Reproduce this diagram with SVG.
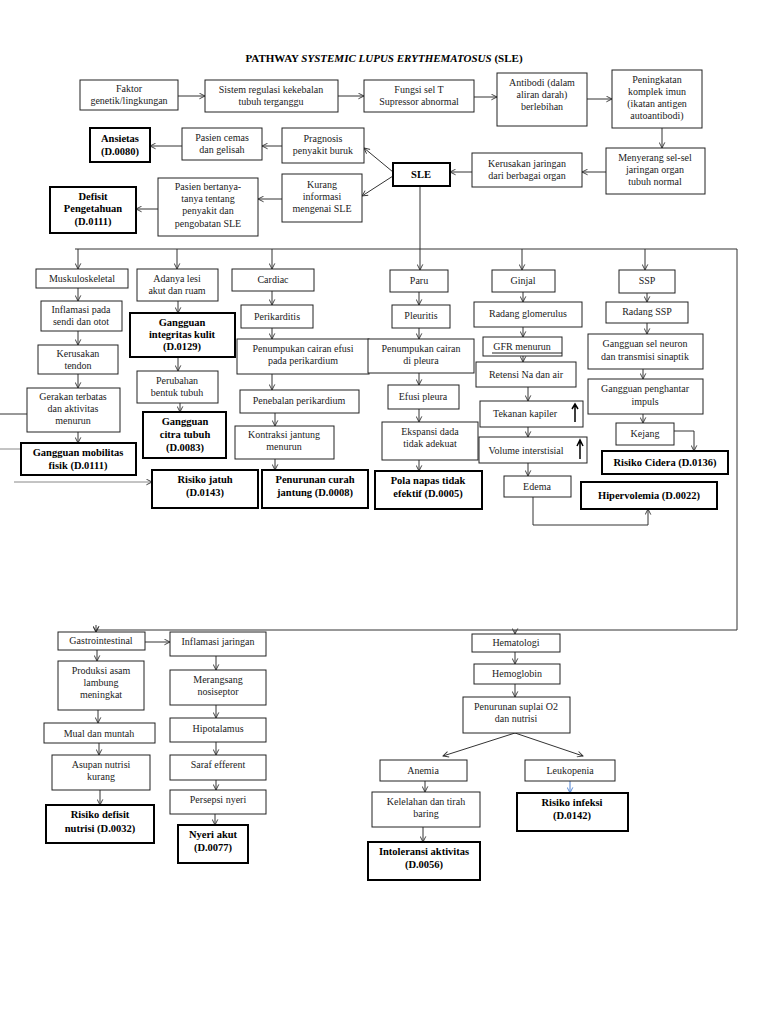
<svg xmlns="http://www.w3.org/2000/svg" width="768" height="1024" viewBox="0 0 768 1024">
<style>
text{font-family:"Liberation Serif","Times New Roman",serif;font-size:10px;fill:#222;text-anchor:middle}
.b text{font-weight:bold;font-size:10.5px;fill:#000}
rect{fill:#fff;stroke:#222;stroke-width:1}
.b rect{stroke:#000;stroke-width:2}
#conn path,#conn line{fill:none;stroke:#333;stroke-width:1}
</style>
<defs><marker id="a" viewBox="0 0 10 10" refX="9" refY="5" markerWidth="7" markerHeight="7" orient="auto"><path d="M1,1L9,5L1,9" fill="none" stroke="#333" stroke-width="1.3"/></marker>
<marker id="ab" viewBox="0 0 10 10" refX="9" refY="5" markerWidth="7" markerHeight="7" orient="auto"><path d="M1,1L9,5L1,9" fill="none" stroke="#4a7fd0" stroke-width="1.3"/></marker></defs>
<rect x="0" y="0" width="768" height="1024" style="fill:#fff;stroke:none"/>
<text x="384" y="62" style="font-weight:bold;font-size:11px;fill:#000">PATHWAY <tspan font-style="italic">SYSTEMIC LUPUS ERYTHEMATOSUS</tspan> (SLE)</text>

<g id="conn">
<line x1="178" y1="96" x2="205" y2="96" marker-end="url(#a)"/>
<line x1="338" y1="96" x2="364" y2="96" marker-end="url(#a)"/>
<line x1="474" y1="97" x2="497" y2="97" marker-end="url(#a)"/>
<line x1="587" y1="99" x2="612" y2="99" marker-end="url(#a)"/>
<line x1="662" y1="128" x2="662" y2="148" marker-end="url(#a)"/>
<line x1="606" y1="172" x2="582" y2="172" marker-end="url(#a)"/>
<line x1="472" y1="172" x2="450" y2="172" marker-end="url(#a)"/>
<line x1="393" y1="172" x2="364" y2="148" marker-end="url(#a)"/>
<line x1="393" y1="176" x2="362" y2="196" marker-end="url(#a)"/>
<line x1="282" y1="146" x2="262" y2="146" marker-end="url(#a)"/>
<line x1="182" y1="146" x2="150" y2="146" marker-end="url(#a)"/>
<line x1="282" y1="199" x2="258" y2="199" marker-end="url(#a)"/>
<line x1="158" y1="209" x2="136" y2="209" marker-end="url(#a)"/>
<path d="M420,186V270" marker-end="url(#a)"/>
<path d="M75,249H737V630H96V632"/>
<line x1="78" y1="249" x2="78" y2="269" marker-end="url(#a)"/>
<line x1="177" y1="249" x2="177" y2="269" marker-end="url(#a)"/>
<line x1="272" y1="249" x2="272" y2="269" marker-end="url(#a)"/>
<line x1="522" y1="249" x2="522" y2="270" marker-end="url(#a)"/>
<line x1="645" y1="249" x2="645" y2="270" marker-end="url(#a)"/>
<line x1="96" y1="630" x2="96" y2="632" />
<line x1="96" y1="620" x2="96" y2="632" marker-end="url(#a)" style="stroke:none"/>
<line x1="515" y1="630" x2="515" y2="634" marker-end="url(#a)"/>
<line x1="78" y1="288" x2="78" y2="301" marker-end="url(#a)"/>
<line x1="78" y1="331" x2="78" y2="345" marker-end="url(#a)"/>
<line x1="78" y1="374" x2="78" y2="388" marker-end="url(#a)"/>
<line x1="78" y1="432" x2="78" y2="443" marker-end="url(#a)"/>
<line x1="0" y1="414" x2="27" y2="414"/>
<line x1="0" y1="449" x2="60" y2="449" style="stroke:#888"/>
<line x1="14" y1="482" x2="152" y2="482" marker-end="url(#a)" style="stroke:#888"/>
<line x1="178" y1="301" x2="178" y2="313" marker-end="url(#a)"/>
<line x1="178" y1="357" x2="178" y2="371" marker-end="url(#a)"/>
<line x1="180" y1="403" x2="180" y2="412" marker-end="url(#a)"/>
<line x1="272" y1="291" x2="272" y2="305" marker-end="url(#a)"/>
<line x1="272" y1="328" x2="272" y2="339" marker-end="url(#a)"/>
<line x1="272" y1="374" x2="272" y2="390" marker-end="url(#a)"/>
<line x1="275" y1="413" x2="275" y2="426" marker-end="url(#a)"/>
<line x1="275" y1="459" x2="275" y2="470" marker-end="url(#a)"/>
<line x1="419" y1="292" x2="419" y2="305" marker-end="url(#a)"/>
<line x1="419" y1="328" x2="419" y2="339" marker-end="url(#a)"/>
<line x1="419" y1="373" x2="419" y2="385" marker-end="url(#a)"/>
<line x1="419" y1="409" x2="419" y2="422" marker-end="url(#a)"/>
<line x1="419" y1="460" x2="419" y2="471" marker-end="url(#a)"/>
<line x1="523" y1="292" x2="523" y2="302" marker-end="url(#a)"/>
<line x1="523" y1="327" x2="523" y2="337" marker-end="url(#a)"/>
<line x1="523" y1="356" x2="523" y2="362" marker-end="url(#a)"/>
<line x1="528" y1="387" x2="528" y2="401" marker-end="url(#a)"/>
<line x1="528" y1="427" x2="528" y2="437" marker-end="url(#a)"/>
<line x1="528" y1="463" x2="528" y2="476" marker-end="url(#a)"/>
<path d="M533,497V525H648V509" marker-end="url(#a)"/>
<line x1="647" y1="293" x2="647" y2="302" marker-end="url(#a)"/>
<line x1="647" y1="323" x2="647" y2="334" marker-end="url(#a)"/>
<line x1="643" y1="369" x2="643" y2="379" marker-end="url(#a)"/>
<line x1="643" y1="414" x2="643" y2="423" marker-end="url(#a)"/>
<path d="M674,431H694V451" marker-end="url(#a)"/>
<line x1="96" y1="625" x2="96" y2="632" marker-end="url(#a)"/>
<line x1="145" y1="642" x2="170" y2="642" marker-end="url(#a)"/>
<line x1="97" y1="650" x2="97" y2="661" marker-end="url(#a)"/>
<line x1="98" y1="710" x2="98" y2="723" marker-end="url(#a)"/>
<line x1="99" y1="743" x2="99" y2="755" marker-end="url(#a)"/>
<line x1="100" y1="790" x2="100" y2="805" marker-end="url(#a)"/>
<line x1="216" y1="656" x2="216" y2="670" marker-end="url(#a)"/>
<line x1="216" y1="705" x2="216" y2="718" marker-end="url(#a)"/>
<line x1="216" y1="742" x2="216" y2="755" marker-end="url(#a)"/>
<line x1="216" y1="780" x2="216" y2="790" marker-end="url(#a)"/>
<line x1="215" y1="814" x2="215" y2="825" marker-end="url(#a)"/>
<line x1="515" y1="652" x2="515" y2="664" marker-end="url(#a)"/>
<line x1="515" y1="684" x2="515" y2="697" marker-end="url(#a)"/>
<line x1="515" y1="733" x2="443" y2="756" marker-end="url(#a)"/>
<line x1="515" y1="733" x2="583" y2="756" marker-end="url(#a)"/>
<line x1="425" y1="781" x2="425" y2="792" marker-end="url(#a)"/>
<line x1="423" y1="827" x2="423" y2="842" marker-end="url(#a)"/>
<line x1="570" y1="781" x2="570" y2="793" marker-end="url(#ab)" style="stroke:#4a7fd0"/>
</g>

<g id="n1"><rect x="80" y="80" width="98" height="30"/><text x="129" y="92">Faktor</text><text x="129" y="104">genetik/lingkungan</text></g>
<g id="n2"><rect x="205" y="80" width="133" height="32"/><text x="271" y="93">Sistem regulasi kekebalan</text><text x="271" y="105">tubuh terganggu</text></g>
<g id="n3"><rect x="364" y="80" width="110" height="32"/><text x="419" y="93">Fungsi sel T</text><text x="419" y="105">Supressor abnormal</text></g>
<g id="n4"><rect x="497" y="73" width="90" height="53"/><text x="542" y="86">Antibodi (dalam</text><text x="542" y="98">aliran darah)</text><text x="542" y="110">berlebihan</text></g>
<g id="n5"><rect x="612" y="70" width="90" height="58"/><text x="657" y="83">Peningkatan</text><text x="657" y="95">komplek imun</text><text x="657" y="107">(ikatan antigen</text><text x="657" y="119">autoantibodi)</text></g>
<g id="n6" class="b"><rect x="90" y="128" width="60" height="34"/><text x="120" y="142">Ansietas</text><text x="120" y="155">(D.0080)</text></g>
<g id="n7"><rect x="182" y="128" width="80" height="32"/><text x="222" y="141">Pasien cemas</text><text x="222" y="153">dan gelisah</text></g>
<g id="n8"><rect x="282" y="128" width="82" height="35"/><text x="323" y="142">Pragnosis</text><text x="323" y="154">penyakit buruk</text></g>
<g id="n9" class="b"><rect x="393" y="163" width="57" height="23"/><text x="421" y="178">SLE</text></g>
<g id="n10"><rect x="472" y="153" width="110" height="34"/><text x="527" y="167">Kerusakan jaringan</text><text x="527" y="179">dari berbagai organ</text></g>
<g id="n11"><rect x="606" y="148" width="99" height="46"/><text x="655" y="161">Menyerang sel-sel</text><text x="655" y="173">jaringan organ</text><text x="655" y="185">tubuh normal</text></g>
<g id="n12" class="b"><rect x="50" y="187" width="86" height="46"/><text x="93" y="200">Defisit</text><text x="93" y="212">Pengetahuan</text><text x="93" y="225">(D.0111)</text></g>
<g id="n13"><rect x="158" y="178" width="100" height="58"/><text x="208" y="190">Pasien bertanya-</text><text x="208" y="202">tanya tentang</text><text x="208" y="214">penyakit dan</text><text x="208" y="227">pengobatan SLE</text></g>
<g id="n14"><rect x="282" y="174" width="80" height="48"/><text x="322" y="188">Kurang</text><text x="322" y="200">informasi</text><text x="322" y="212">mengenai SLE</text></g>

<g id="m1"><rect x="36" y="269" width="92" height="19"/><text x="82" y="282">Muskuloskeletal</text></g>
<g id="m2"><rect x="41" y="301" width="81" height="30"/><text x="81" y="313">Inflamasi pada</text><text x="81" y="325">sendi dan otot</text></g>
<g id="m3"><rect x="38" y="345" width="80" height="29"/><text x="78" y="357">Kerusakan</text><text x="78" y="369">tendon</text></g>
<g id="m4"><rect x="27" y="388" width="93" height="44"/><text x="73" y="400">Gerakan terbatas</text><text x="73" y="412">dan aktivitas</text><text x="73" y="424">menurun</text></g>
<g id="m5" class="b"><rect x="21" y="443" width="115" height="32"/><text x="78" y="456">Gangguan mobilitas</text><text x="78" y="469">fisik (D.0111)</text></g>
<g id="k1"><rect x="137" y="269" width="81" height="32"/><text x="177" y="282">Adanya lesi</text><text x="177" y="294">akut dan ruam</text></g>
<g id="k2" class="b"><rect x="130" y="313" width="105" height="44"/><text x="182" y="326">Gangguan</text><text x="182" y="338">integritas kulit</text><text x="182" y="350">(D.0129)</text></g>
<g id="k3"><rect x="137" y="371" width="81" height="32"/><text x="177" y="384">Perubahan</text><text x="177" y="396">bentuk tubuh</text></g>
<g id="k4" class="b"><rect x="143" y="412" width="83" height="46"/><text x="185" y="425">Gangguan</text><text x="185" y="438">citra tubuh</text><text x="185" y="451">(D.0083)</text></g>
<g id="k5" class="b"><rect x="152" y="470" width="106" height="38"/><text x="205" y="483">Risiko jatuh</text><text x="205" y="496">(D.0143)</text></g>
<g id="c1"><rect x="232" y="269" width="82" height="22"/><text x="273" y="283">Cardiac</text></g>
<g id="c2"><rect x="241" y="305" width="72" height="23"/><text x="277" y="320">Perikarditis</text></g>
<g id="c3"><rect x="237" y="339" width="132" height="35"/><text x="303" y="352">Penumpukan cairan efusi</text><text x="303" y="364">pada perikardium</text></g>
<g id="c4"><rect x="240" y="390" width="119" height="23"/><text x="299" y="404">Penebalan perikardium</text></g>
<g id="c5"><rect x="235" y="426" width="99" height="33"/><text x="284" y="438">Kontraksi jantung</text><text x="284" y="450">menurun</text></g>
<g id="c6" class="b"><rect x="262" y="470" width="106" height="38"/><text x="315" y="483">Penurunan curah</text><text x="315" y="496">jantung (D.0008)</text></g>
<g id="p1"><rect x="390" y="270" width="58" height="22"/><text x="419" y="284">Paru</text></g>
<g id="p2"><rect x="392" y="305" width="58" height="23"/><text x="421" y="319">Pleuritis</text></g>
<g id="p3"><rect x="368" y="339" width="106" height="34"/><text x="421" y="352">Penumpukan cairan</text><text x="421" y="364">di pleura</text></g>
<g id="p4"><rect x="388" y="385" width="71" height="24"/><text x="423" y="400">Efusi pleura</text></g>
<g id="p5"><rect x="382" y="422" width="96" height="38"/><text x="430" y="435">Ekspansi dada</text><text x="430" y="447">tidak adekuat</text></g>
<g id="p6" class="b"><rect x="375" y="471" width="107" height="38"/><text x="428" y="484">Pola napas tidak</text><text x="428" y="497">efektif (D.0005)</text></g>
<g id="g1"><rect x="492" y="270" width="63" height="22"/><text x="523" y="284">Ginjal</text></g>
<g id="g2"><rect x="474" y="302" width="108" height="25"/><text x="528" y="317">Radang glomerulus</text></g>
<g id="g3"><rect x="483" y="337" width="79" height="19"/><text x="522" y="350">GFR menurun</text><line x1="492" y1="353" x2="562" y2="353" stroke="#222"/></g>
<g id="g4"><rect x="476" y="362" width="100" height="25"/><text x="526" y="378">Retensi Na dan air</text></g>
<g id="g5"><rect x="480" y="401" width="103" height="26"/><text x="525" y="417">Tekanan kapiler</text><path d="M575,422V405M572,409L575,404L578,409" fill="none" stroke="#000" stroke-width="1.5"/></g>
<g id="g6"><rect x="479" y="437" width="108" height="26"/><text x="526" y="454">Volume interstisial</text><path d="M580,459V441M577,446L580,440L583,446" fill="none" stroke="#000" stroke-width="1.5"/></g>
<g id="g7"><rect x="504" y="476" width="67" height="21"/><text x="537" y="490">Edema</text></g>
<g id="g8" class="b"><rect x="581" y="482" width="136" height="27"/><text x="649" y="499">Hipervolemia  (D.0022)</text></g>
<g id="s1"><rect x="619" y="270" width="56" height="23"/><text x="647" y="284">SSP</text></g>
<g id="s2"><rect x="606" y="302" width="82" height="21"/><text x="647" y="315">Radang SSP</text></g>
<g id="s3"><rect x="588" y="334" width="115" height="35"/><text x="645" y="347">Gangguan sel neuron</text><text x="645" y="360">dan transmisi sinaptik</text></g>
<g id="s4"><rect x="588" y="379" width="115" height="35"/><text x="645" y="392">Gangguan penghantar</text><text x="645" y="405">impuls</text></g>
<g id="s5"><rect x="616" y="423" width="58" height="22"/><text x="645" y="437">Kejang</text></g>
<g id="s6" class="b"><rect x="602" y="451" width="126" height="23"/><text x="665" y="466">Risiko Cidera (D.0136)</text></g>

<g id="b1"><rect x="58" y="632" width="87" height="18"/><text x="101" y="644">Gastrointestinal</text></g>
<g id="b2"><rect x="170" y="632" width="96" height="24"/><text x="218" y="645">Inflamasi jaringan</text></g>
<g id="b3"><rect x="58" y="661" width="86" height="49"/><text x="101" y="674">Produksi asam</text><text x="101" y="686">lambung</text><text x="101" y="698">meningkat</text></g>
<g id="b4"><rect x="44" y="723" width="111" height="20"/><text x="99" y="737">Mual dan muntah</text></g>
<g id="b5"><rect x="52" y="755" width="98" height="35"/><text x="101" y="768">Asupan nutrisi</text><text x="101" y="780">kurang</text></g>
<g id="b6" class="b"><rect x="46" y="805" width="108" height="38"/><text x="100" y="818">Risiko defisit</text><text x="100" y="832">nutrisi (D.0032)</text></g>
<g id="b7"><rect x="170" y="670" width="96" height="35"/><text x="218" y="683">Merangsang</text><text x="218" y="695">nosiseptor</text></g>
<g id="b8"><rect x="170" y="718" width="96" height="24"/><text x="218" y="732">Hipotalamus</text></g>
<g id="b9"><rect x="170" y="755" width="96" height="25"/><text x="218" y="768">Saraf efferent</text></g>
<g id="b10"><rect x="170" y="790" width="96" height="24"/><text x="218" y="803">Persepsi nyeri</text></g>
<g id="b11" class="b"><rect x="178" y="825" width="70" height="38"/><text x="213" y="838">Nyeri akut</text><text x="213" y="851">(D.0077)</text></g>
<g id="h1"><rect x="472" y="634" width="88" height="18"/><text x="516" y="646">Hematologi</text></g>
<g id="h2"><rect x="474" y="664" width="86" height="20"/><text x="517" y="677">Hemoglobin</text></g>
<g id="h3"><rect x="463" y="697" width="107" height="36"/><text x="516" y="710">Penurunan suplai O2</text><text x="516" y="722">dan nutrisi</text></g>
<g id="h4"><rect x="380" y="760" width="87" height="21"/><text x="423" y="774">Anemia</text></g>
<g id="h5"><rect x="525" y="760" width="90" height="21"/><text x="570" y="774">Leukopenia</text></g>
<g id="h6"><rect x="372" y="792" width="108" height="35"/><text x="426" y="805">Kelelahan dan tirah</text><text x="426" y="817">baring</text></g>
<g id="h7" class="b"><rect x="368" y="842" width="112" height="38"/><text x="424" y="855">Intoleransi aktivitas</text><text x="424" y="868">(D.0056)</text></g>
<g id="h8" class="b"><rect x="517" y="793" width="111" height="38"/><text x="572" y="806">Risiko infeksi</text><text x="572" y="819">(D.0142)</text></g>
</svg>
